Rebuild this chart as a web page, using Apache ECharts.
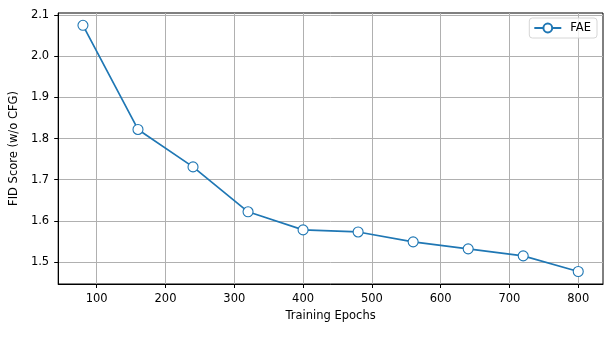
<!DOCTYPE html>
<html>
<head>
<meta charset="utf-8">
<script src="https://cdn.jsdelivr.net/npm/echarts@6/dist/echarts.min.js"></script>
<style>html,body{margin:0;padding:0;background:#fff}#c{width:615px;height:362px}</style>
</head>
<body>
<div id="c"></div>
<script>
const epochs = [80, 160, 240, 320, 400, 480, 560, 640, 720, 800];
const fidScores = [2.075, 1.822, 1.731, 1.622, 1.578, 1.573, 1.549, 1.532, 1.515, 1.477];
const xTicks = [100, 200, 300, 400, 500, 600, 700, 800];
const yTicks = [1.5, 1.6, 1.7, 1.8, 1.9, 2.0, 2.1];
const seriesName = 'FAE';
const xName = 'Training Epochs';
const yName = 'FID Score (w/o CFG)';

const FONT = 'DejaVu Sans';
const chart = echarts.init(document.getElementById('c'), null, {renderer: 'canvas'});
const axisCommon = {
  axisLine: {show: true, lineStyle: {color: '#000', width: 1}},
  axisTick: {show: true, inside: false, length: 4, lineStyle: {color: '#000', width: 1}},
  splitLine: {show: true, lineStyle: {color: '#b0b0b0', width: 1}},
  nameTextStyle: {fontFamily: FONT, fontSize: 11.5, color: '#000'}
};
chart.setOption({
  animation: false,
  backgroundColor: '#fff',
  grid: {left: 57, right: 12, top: 13, bottom: 78, show: true, borderColor: '#000', borderWidth: 1, backgroundColor: 'transparent'},
  legend: {
    show: true, right: 18, top: 18,
    backgroundColor: 'rgba(255,255,255,0.8)', borderColor: '#d6d6d6', borderWidth: 1, borderRadius: 3,
    padding: [4, 6, 4, 4], itemWidth: 27, itemHeight: 11,
    textStyle: {fontFamily: FONT, fontSize: 11.5, color: '#000', padding: [0, 0, 0, 4]},
    data: [seriesName]
  },
  xAxis: Object.assign({}, axisCommon, {
    type: 'value', min: 44, max: 836,
    name: xName, nameLocation: 'middle', nameGap: 26,
    axisTick: Object.assign({}, axisCommon.axisTick, {customValues: xTicks}),
    axisLabel: {customValues: xTicks, fontFamily: FONT, fontSize: 11.5, color: '#000', margin: 9}
  }),
  yAxis: Object.assign({}, axisCommon, {
    type: 'value', min: 1.4466, max: 2.1049,
    name: yName, nameLocation: 'middle', nameGap: 33, nameRotate: 90,
    axisTick: Object.assign({}, axisCommon.axisTick, {customValues: yTicks}),
    axisLabel: {customValues: yTicks, fontFamily: FONT, fontSize: 11.5, color: '#000', margin: 9,
      formatter: v => v.toFixed(1)}
  }),
  series: [{
    name: seriesName, type: 'line',
    data: epochs.map((e, i) => [e, fidScores[i]]),
    lineStyle: {color: '#1f77b4', width: 1.7},
    itemStyle: {color: '#fff', borderColor: '#1f77b4', borderWidth: 1.1},
    symbol: 'circle', symbolSize: 10, showSymbol: true,
    emphasis: {disabled: true}
  }]
});
</script>
</body>
</html>
